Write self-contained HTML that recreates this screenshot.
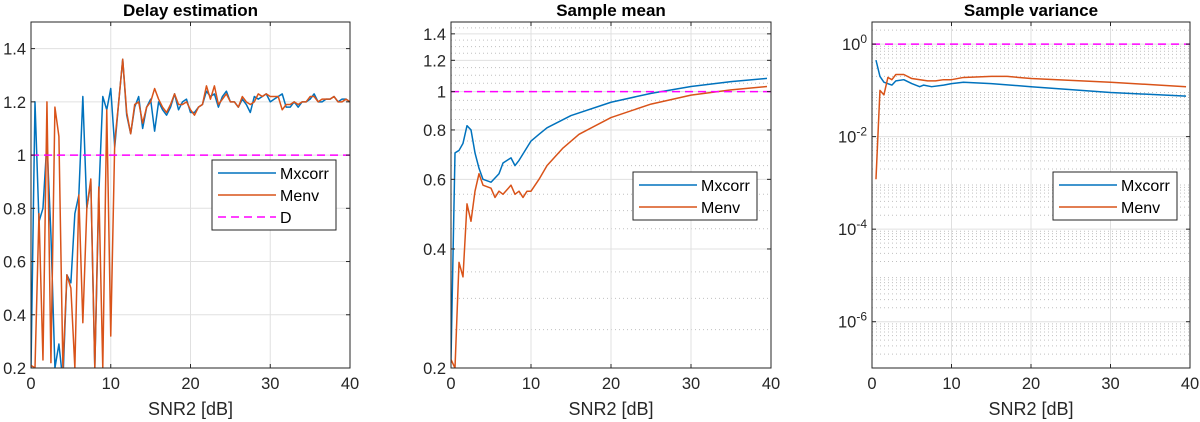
<!DOCTYPE html>
<html><head><meta charset="utf-8">
<style>
html,body{margin:0;padding:0;background:#fff;}
svg{display:block;font-family:"Liberation Sans",Arial,sans-serif;}
</style></head>
<body>
<svg id="fig" width="1200" height="422" viewBox="0 0 1200 422" xmlns="http://www.w3.org/2000/svg"></svg>
<script>
// ---------- data: Delay estimation ----------
const delayX = [0,0.5,1,1.5,2,2.5,3,3.5,4,4.5,5,5.5,6,6.5,7,7.5,8,8.5,9,9.5,10,10.5,11,11.5,12,12.5,13,13.5,14,14.5,15,15.5,16,16.5,17,17.5,18,18.5,19,19.5,20,20.5,21,21.5,22,22.5,23,23.5,24,24.5,25,25.5,26,26.5,27,27.5,28,28.5,29,29.5,30,30.5,31,31.5,32,32.5,33,33.5,34,34.5,35,35.5,36,36.5,37,37.5,38,38.5,39,39.5,40];
const delayMxcorr = [0.2,1.2,0.75,0.8,1.05,0.7,0.2,0.29,0.15,0.55,0.52,0.78,0.85,1.22,0.8,0.9,0.2,0.85,1.22,1.17,1.25,1.03,1.2,1.36,1.15,1.08,1.18,1.22,1.1,1.18,1.21,1.09,1.2,1.17,1.15,1.18,1.23,1.17,1.2,1.21,1.16,1.16,1.18,1.19,1.24,1.22,1.23,1.18,1.22,1.24,1.2,1.2,1.18,1.21,1.19,1.16,1.22,1.21,1.22,1.23,1.2,1.21,1.22,1.23,1.18,1.18,1.2,1.18,1.2,1.2,1.21,1.23,1.2,1.2,1.21,1.21,1.22,1.2,1.21,1.21,1.2];
const delayMenv = [0.21,0.2,0.78,0.23,1.2,0.22,1.18,1.07,0.2,0.55,0.5,0.2,0.85,0.37,0.8,0.91,0.2,0.88,0.2,1.17,0.32,1.05,1.2,1.36,1.16,1.08,1.19,1.2,1.12,1.18,1.2,1.25,1.21,1.18,1.16,1.19,1.23,1.19,1.19,1.2,1.17,1.15,1.18,1.19,1.26,1.21,1.26,1.19,1.21,1.23,1.2,1.2,1.18,1.22,1.2,1.19,1.2,1.23,1.22,1.23,1.22,1.22,1.22,1.17,1.19,1.19,1.2,1.19,1.2,1.2,1.22,1.22,1.2,1.21,1.21,1.21,1.22,1.2,1.2,1.21,1.2];
const trueD = 1;
// ---------- data: Sample mean ----------
const meanXBlue = [0,0.5,1,1.5,2,2.5,3,3.5,4,5,6,6.5,7.5,8,8.5,10,11,12,15,20,25,30,35,39.5];
const meanMxcorr = [0.21,0.7,0.71,0.74,0.82,0.8,0.7,0.64,0.6,0.59,0.62,0.66,0.68,0.65,0.67,0.75,0.78,0.81,0.87,0.94,0.99,1.03,1.06,1.08];
const meanXOrange = [0,0.5,1,1.5,2,2.5,3,3.5,4,5,5.5,6,6.5,7.5,8,8.5,9,9.5,10,11,12,14,16,20,25,30,35,39.5];
const meanMenv = [0.21,0.2,0.37,0.34,0.52,0.47,0.56,0.62,0.58,0.57,0.54,0.56,0.55,0.58,0.55,0.56,0.54,0.56,0.56,0.6,0.65,0.72,0.78,0.86,0.93,0.98,1.01,1.03];
// ---------- data: Sample variance ----------
const varXBlue = [0.5,1,1.5,2.5,3,4,5,6,6.5,7.5,9,10,11.5,15,20,30,39.5];
const varMxcorr = [0.45,0.2,0.15,0.13,0.16,0.17,0.14,0.12,0.13,0.12,0.13,0.14,0.15,0.14,0.12,0.09,0.075];
const varXOrange = [0.5,1,1.5,2,2.5,3,4,5,7,8,9,10,11.5,15,17,20,30,39.5];
const varMenv = [0.0012,0.1,0.08,0.19,0.17,0.22,0.22,0.18,0.16,0.16,0.17,0.17,0.19,0.2,0.2,0.18,0.15,0.12];
const xTicks = [0,10,20,30,40];
const delayTicks = [0.2,0.4,0.6,0.8,1,1.2,1.4];
const delayTickLabels = ["0.2","0.4","0.6","0.8","1","1.2","1.4"];
const meanTicks = [0.2,0.4,0.6,0.8,1,1.2,1.4];
const meanTickLabels = ["0.2","0.4","0.6","0.8","1","1.2","1.4"];
const varTickExps = [-6,-4,-2,0];

const NS="http://www.w3.org/2000/svg";
const svg=document.getElementById('fig');
function mk(tag,attrs,parent){const e=document.createElementNS(NS,tag);for(const k in attrs)e.setAttribute(k,attrs[k]);(parent||svg).appendChild(e);return e;}
const BLUE="#0072BD",ORANGE="#D95319",MAG="#FF00FF";

function makeAxes(cfg){
  const g=mk('g',{});
  
  
  const L=cfg.left,R=cfg.right,T=22,B=368;
  const sx=x=>L+(x-0)/(40-0)*(R-L);
  const sy=cfg.log? (v=>B-(Math.log10(v)-Math.log10(cfg.ymin))/(Math.log10(cfg.ymax)-Math.log10(cfg.ymin))*(B-T))
                  : (v=>B-(v-cfg.ymin)/(cfg.ymax-cfg.ymin)*(B-T));
  const clipId='clip-'+cfg.name;
  const cp=mk('clipPath',{id:clipId},g);mk('rect',{x:L,y:T,width:R-L,height:B-T},cp);
  (cfg.minor||[]).forEach(v=>{const y=sy(v);if(y<T||y>B)return;const l=mk('line',{x1:L,x2:R,y1:y,y2:y,stroke:'#c0c0c0','stroke-width':1,'stroke-dasharray':'1 3'},g);
    });
  xTicks.forEach(x=>{const X=sx(x);const l=mk('line',{x1:X,x2:X,y1:T,y2:B,stroke:'#e0e0e0','stroke-width':1},g);
    });
  cfg.yticks.forEach(v=>{const Y=sy(v);const l=mk('line',{x1:L,x2:R,y1:Y,y2:Y,stroke:'#e0e0e0','stroke-width':1},g);
    });
  const sg=mk('g',{'clip-path':'url(#'+clipId+')'},g);
  cfg.series.forEach(s=>{
    const d=s.x.map((x,i)=>(i?'L':'M')+sx(x).toFixed(2)+','+sy(s.y[i]).toFixed(2)).join(' ');
    const p=mk('path',{d:d,fill:'none',stroke:s.color,'stroke-width':1.5,'stroke-linejoin':'round'},sg);
    
  });
  if(cfg.ref!==undefined){const Y=sy(cfg.ref);const l=mk('line',{x1:L,x2:R,y1:Y,y2:Y,stroke:MAG,'stroke-width':1.5,'stroke-dasharray':'8 5'},sg);
    }
  const bx=mk('rect',{x:L,y:T,width:R-L,height:B-T,fill:'none',stroke:'#262626','stroke-width':1},g);
  
  xTicks.forEach(x=>{const X=sx(x);mk('line',{x1:X,x2:X,y1:B,y2:B-4,stroke:'#262626'},g);mk('line',{x1:X,x2:X,y1:T,y2:T+4,stroke:'#262626'},g);
    const t=mk('text',{x:X,y:B+21,'text-anchor':'middle','font-size':16.5,fill:'#262626'},g);t.textContent=x;
    });
  cfg.yticks.forEach((v,i)=>{const Y=sy(v);mk('line',{x1:L,x2:L+4,y1:Y,y2:Y,stroke:'#262626'},g);mk('line',{x1:R,x2:R-4,y1:Y,y2:Y,stroke:'#262626'},g);
    const t=mk('text',{x:L-5,y:Y+6,'text-anchor':'end','font-size':16.5,fill:'#262626'},g);
    if(cfg.exp){t.textContent='10';const s=mk('tspan',{dy:-7,'font-size':12},t);s.textContent=cfg.labels[i];}
    else t.textContent=cfg.labels[i];
    });
  const ti=mk('text',{x:(L+R)/2,y:16,'text-anchor':'middle','font-size':17,'font-weight':'bold',fill:'#000'},g);ti.textContent=cfg.title;
  
  const xl=mk('text',{x:(L+R)/2,y:415,'text-anchor':'middle','font-size':18,fill:'#262626'},g);xl.textContent='SNR2 [dB]';
  
  const lg=mk('g',{},g);
  const lb=cfg.legend;
  mk('rect',{x:lb.x,y:lb.y,width:124,height:lb.entries.length*22+4,fill:'#fff',stroke:'#262626','stroke-width':1},lg);
  lb.entries.forEach((e,i)=>{const y=lb.y+13+i*22;
    const ln=mk('line',{x1:lb.x+6,x2:lb.x+64,y1:y,y2:y,stroke:e.c,'stroke-width':1.5},lg);if(e.dash)ln.setAttribute('stroke-dasharray','8 5');
    const t=mk('text',{x:lb.x+68,y:y+6,'font-size':16,fill:'#000'},lg);t.textContent=e.t;
    });
}

const meanMinor=[];for(let v=0.25;v<1.5;v+=0.05){const r=Math.round(v*100)/100;if(Math.abs(r*5-Math.round(r*5))>1e-6)meanMinor.push(r);}
const varMinor=[];for(let e=-7;e<=0;e++)for(let m=2;m<=9;m++)varMinor.push(m*Math.pow(10,e));

makeAxes({name:'delay-estimation-chart',left:31,right:350,ymin:0.2,ymax:1.5,log:false,yticks:delayTicks,labels:delayTickLabels,title:'Delay estimation',
  series:[{name:'mxcorr-line',x:delayX,y:delayMxcorr,color:BLUE},{name:'menv-line',x:delayX,y:delayMenv,color:ORANGE}],ref:trueD,
  legend:{x:212,y:160,entries:[{t:'Mxcorr',c:BLUE},{t:'Menv',c:ORANGE},{t:'D',c:MAG,dash:true}]}});
makeAxes({name:'sample-mean-chart',left:451,right:771,ymin:0.2,ymax:1.5,log:true,yticks:meanTicks,labels:meanTickLabels,minor:meanMinor,title:'Sample mean',
  series:[{name:'mxcorr-line',x:meanXBlue,y:meanMxcorr,color:BLUE},{name:'menv-line',x:meanXOrange,y:meanMenv,color:ORANGE}],ref:trueD,
  legend:{x:633,y:172,entries:[{t:'Mxcorr',c:BLUE},{t:'Menv',c:ORANGE}]}});
makeAxes({name:'sample-variance-chart',left:872,right:1190,ymin:1e-7,ymax:3.0,log:true,exp:true,yticks:varTickExps.map(e=>Math.pow(10,e)),labels:varTickExps.map(String),minor:varMinor,title:'Sample variance',
  series:[{name:'mxcorr-line',x:varXBlue,y:varMxcorr,color:BLUE},{name:'menv-line',x:varXOrange,y:varMenv,color:ORANGE}],ref:trueD,
  legend:{x:1053,y:172,entries:[{t:'Mxcorr',c:BLUE},{t:'Menv',c:ORANGE}]}});
</script>
</body></html>
